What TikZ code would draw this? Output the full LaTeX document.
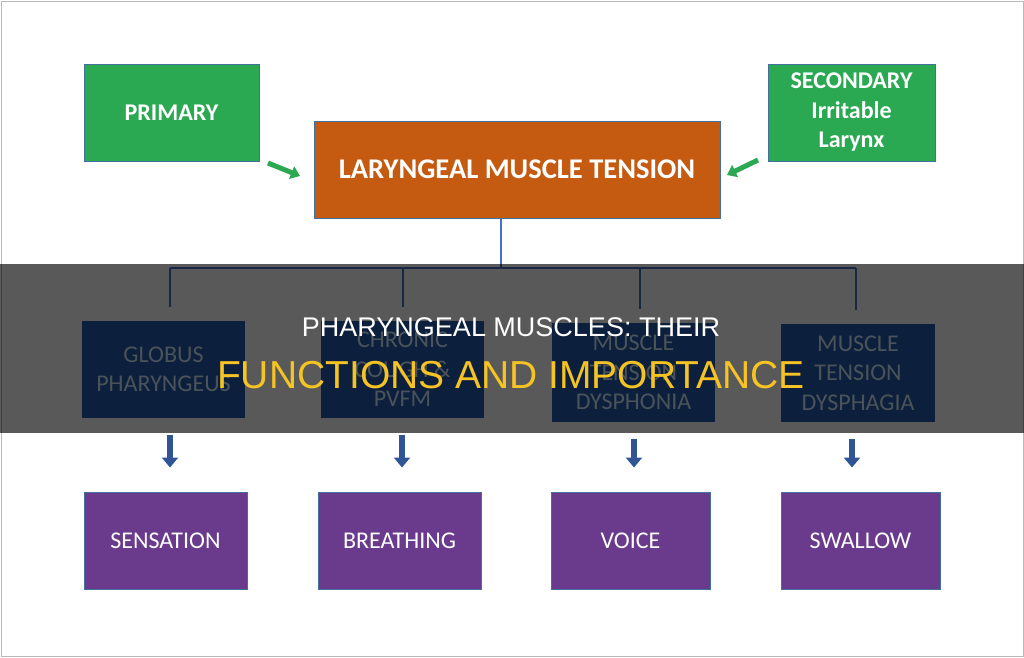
\documentclass[tikz,border=0pt]{standalone}
\usepackage{fontspec}
\setmainfont{Carlito}
\newfontfamily\headfont{Liberation Sans}
\usetikzlibrary{arrows.meta}
\usetikzlibrary{positioning}

\definecolor{causegreen}{RGB}{43,168,82}
\definecolor{mainorange}{RGB}{197,90,17}
\definecolor{effectpurple}{RGB}{106,58,141}
\definecolor{disorderblue}{RGB}{37,89,174}
\definecolor{boxedge}{RGB}{65,113,156}
\definecolor{treeblue}{RGB}{68,114,196}
\definecolor{arrowblue}{RGB}{47,85,151}
\definecolor{titleyellow}{RGB}{246,195,36}

\begin{document}
\begin{tikzpicture}[x=1pt,y=-1pt,
	box/.style={rectangle,draw=boxedge,line width=1pt,inner sep=0pt,align=center,
		text=white,font=\fontsize{24}{29.5}\selectfont},
	cause node/.style={box,fill=causegreen,font=\fontsize{24}{29.5}\selectfont\bfseries,minimum height=97pt},
	main node/.style={box,fill=mainorange,font=\fontsize{28.5}{34}\selectfont\bfseries,minimum width=406pt,minimum height=97pt},
	disorder node/.style={box,draw=none,fill=disorderblue,text={rgb,255:red,214;green,240;blue,255},minimum width=163pt,minimum height=97pt},
	effect node/.style={box,fill=effectpurple,minimum width=160pt,minimum height=97pt},
	tree line/.style={draw=treeblue,line width=1.6pt},
	push arrow/.style={draw=causegreen,line width=5pt,-{Triangle[length=9pt,width=13pt]}},
	down arrow/.style={draw=arrowblue,line width=6.5pt,-{Triangle[length=10pt,width=16pt]},shorten <=16pt,shorten >=24pt}]

	\useasboundingbox (0,0) rectangle (1024,657);
	\draw[gray!55,line width=1pt] (1,1) rectangle (1023,656);

	% causes and main node
	\node[cause node,minimum width=175pt] (prim) at (171.5,112.5) {PRIMARY};
	\node[cause node,minimum width=167pt] (sec) at (851.5,112.5) {SECONDARY\\Irritable\\Larynx};
	\node[main node] (lmt) at (517,169.5) {LARYNGEAL MUSCLE TENSION};

	\coordinate (pa) at (268,163);
	\coordinate (pb) at (300,176);
	\coordinate (sa) at (758,160);
	\coordinate (sb) at (727,175);
	\draw[push arrow] (pa) -- (pb);
	\draw[push arrow] (sa) -- (sb);

	% disorders
	\node[disorder node] (glob) at (163.5,369.5) {GLOBUS\\PHARYNGEUS};
	\node[disorder node] (chron) at (402.5,369.5) {CHRONIC\\COUGH \&\\PVFM};
	\node[disorder node,minimum height=99pt] (mtd) at (633.5,372.5) {MUSCLE\\TENSION\\DYSPHONIA};
	\node[disorder node,minimum width=154pt,minimum height=98pt] (mtg) at (858,373) {MUSCLE\\TENSION\\DYSPHAGIA};

	\coordinate (bus) at (501,268);
	\draw[tree line] (lmt.south -| bus) -- (bus);
	\draw[tree line] (170,0 |- bus) -- (856,0 |- bus);
	\foreach \n/\x in {glob/170,chron/403,mtd/640,mtg/856}
		\draw[tree line,shorten >=14pt] (\x,0 |- bus) -- (\x,0 |- \n.north);

	% functions
	\node[effect node,minimum width=163pt] (sens) at (165.5,540.5) {SENSATION};
	\node[effect node,minimum width=163pt] (breath) at (399.5,540.5) {BREATHING};
	\node[effect node,minimum width=159pt] (voice) at (630.5,540.5) {VOICE};
	\node[effect node,minimum width=159pt] (swal) at (860.5,540.5) {SWALLOW};

	\foreach \up/\dn/\x in {glob/sens/170,chron/breath/402,mtd/voice/634,mtg/swal/852}
		\draw[down arrow] (\x,0 |- \up.south) -- (\x,0 |- \dn.north);

	% title band
	\fill[black,opacity=0.65] (0,264) rectangle (1024,433);
	\node[anchor=base,text=white,font=\headfont\fontsize{27}{32}\selectfont] (title) at (511,336) {PHARYNGEAL MUSCLES: THEIR};
	\node[anchor=base,text=titleyellow,font=\headfont\fontsize{39}{46}\selectfont] (subtitle) at (511,388) {FUNCTIONS AND IMPORTANCE};

\end{tikzpicture}
\end{document}
